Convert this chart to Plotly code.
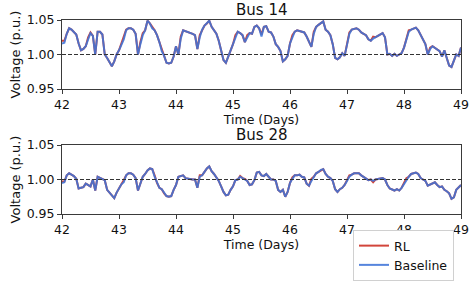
import numpy as np
import plotly.graph_objects as go

# Hourly samples from day 42 to day 49
start_day = 42
hours = np.arange(169)
time_days = start_day + hours / 24.0

bus14_baseline = [
    1.016, 1.017, 1.030, 1.038, 1.036, 1.033, 1.029, 1.016, 1.006, 1.008, 1.012, 1.022,
    1.031, 1.027, 1.000, 1.033, 1.033, 1.029, 1.000, 0.995, 0.988, 0.983, 0.990, 1.000,
    1.006, 1.015, 1.022, 1.035, 1.038, 1.038, 1.036, 1.030, 1.000, 1.015, 1.028, 1.035,
    1.049, 1.045, 1.038, 1.035, 1.028, 1.018, 1.005, 0.998, 0.988, 0.987, 0.988, 0.997,
    1.012, 1.000, 1.023, 1.035, 1.034, 1.032, 1.031, 1.030, 1.028, 1.008, 1.025, 1.036,
    1.042, 1.045, 1.049, 1.040, 1.035, 1.030, 1.020, 1.004, 0.992, 0.988, 0.997, 1.005,
    1.015, 1.025, 1.033, 1.031, 1.028, 1.018, 1.025, 1.031, 1.030, 1.040, 1.042, 1.038,
    1.026, 1.040, 1.041, 1.033, 1.032, 1.026, 1.015, 1.011, 1.005, 0.990, 0.993, 0.998,
    1.016, 1.025, 1.033, 1.035, 1.034, 1.033, 1.032, 1.026, 1.018, 1.011, 1.030, 1.040,
    1.043, 1.046, 1.048, 1.036, 1.033, 1.028, 1.015, 0.995, 0.993, 0.996, 1.002, 0.998,
    1.015, 1.030, 1.036, 1.037, 1.038, 1.036, 1.032, 1.030, 1.028, 1.022, 1.020, 1.023,
    1.025, 1.027, 1.029, 1.031, 1.025, 1.000, 1.001, 0.998, 1.001, 0.998, 1.000, 1.002,
    1.010, 1.020, 1.033, 1.036, 1.038, 1.039, 1.035, 1.028, 1.022, 1.015, 1.000, 1.008,
    1.012, 1.010, 1.008, 1.005, 0.997, 1.006, 0.995, 0.984, 0.982, 0.990, 1.000, 0.998,
    1.010,
]

bus14_rl = [
    1.020, 1.020, 1.030, 1.038, 1.036, 1.033, 1.029, 1.016, 1.006, 1.008, 1.012, 1.025,
    1.032, 1.027, 1.000, 1.033, 1.033, 1.029, 1.000, 0.995, 0.988, 0.983, 0.990, 1.000,
    1.006, 1.015, 1.026, 1.036, 1.038, 1.038, 1.036, 1.030, 1.000, 1.018, 1.031, 1.035,
    1.049, 1.045, 1.040, 1.035, 1.028, 1.018, 1.005, 0.998, 0.988, 0.987, 0.988, 0.997,
    1.012, 1.000, 1.026, 1.035, 1.034, 1.032, 1.031, 1.030, 1.028, 1.008, 1.028, 1.036,
    1.042, 1.045, 1.049, 1.040, 1.035, 1.030, 1.020, 1.004, 0.992, 0.988, 0.997, 1.005,
    1.015, 1.028, 1.033, 1.031, 1.028, 1.018, 1.028, 1.031, 1.030, 1.040, 1.042, 1.038,
    1.029, 1.040, 1.041, 1.033, 1.032, 1.026, 1.015, 1.011, 1.005, 0.990, 0.993, 0.998,
    1.016, 1.028, 1.033, 1.035, 1.034, 1.033, 1.032, 1.026, 1.018, 1.011, 1.033, 1.040,
    1.043, 1.046, 1.048, 1.036, 1.033, 1.028, 1.015, 0.995, 0.993, 0.996, 1.002, 0.998,
    1.018, 1.032, 1.036, 1.037, 1.038, 1.036, 1.032, 1.030, 1.028, 1.022, 1.020, 1.026,
    1.025, 1.027, 1.029, 1.031, 1.025, 1.000, 1.001, 0.998, 1.001, 0.998, 1.000, 1.002,
    1.010, 1.024, 1.035, 1.036, 1.038, 1.039, 1.035, 1.028, 1.022, 1.015, 1.000, 1.010,
    1.012, 1.010, 1.008, 1.005, 0.997, 1.006, 0.995, 0.984, 0.982, 0.990, 1.000, 0.998,
    1.010,
]

bus28_baseline = [
    0.995, 0.996, 1.006, 1.009, 1.007, 1.005, 1.001, 0.987, 0.988, 0.989, 0.994, 0.992,
    0.990, 1.000, 0.984, 1.004, 1.002, 1.000, 0.999, 0.985, 0.981, 0.976, 0.973, 0.981,
    0.988, 0.993, 0.996, 1.006, 1.009, 1.009, 1.007, 1.002, 0.984, 0.994, 1.004, 1.008,
    1.013, 1.016, 1.015, 1.004, 0.995, 0.988, 0.986, 0.980, 0.976, 0.975, 0.976, 0.985,
    0.992, 1.004, 1.005, 1.006, 1.002, 1.001, 1.001, 1.000, 1.000, 0.988, 1.004, 1.006,
    1.011, 1.016, 1.019, 1.012, 1.008, 1.003, 0.998, 0.990, 0.982, 0.977, 0.978, 0.985,
    0.990, 0.999, 1.000, 1.004, 1.002, 1.001, 0.998, 0.992, 0.993, 0.999, 1.010, 1.011,
    1.006, 1.005, 1.008, 1.004, 1.000, 1.000, 0.998, 0.985, 0.982, 0.985, 0.975, 0.982,
    0.995, 1.001, 1.006, 1.006, 1.007, 1.004, 1.003, 0.994, 0.991, 0.998, 1.004, 1.009,
    1.011, 1.014, 1.015, 1.008, 1.004, 1.002, 0.998, 0.986, 0.982, 0.986, 0.988, 0.992,
    0.998, 1.004, 1.007, 1.009, 1.009, 1.009, 1.006, 1.004, 1.002, 0.999, 1.000, 0.998,
    1.000, 1.001, 1.002, 1.002, 1.000, 0.992, 0.987, 0.986, 0.984, 0.986, 0.984, 0.988,
    0.994, 1.000, 1.004, 1.008, 1.009, 1.010, 1.008, 1.002, 1.000, 0.998, 0.991, 0.993,
    0.995, 0.996, 0.992, 0.989, 0.990, 0.985, 0.983, 0.980, 0.972, 0.974, 0.985, 0.988,
    0.992,
]

bus28_rl = [
    0.997, 0.997, 1.006, 1.009, 1.007, 1.005, 1.001, 0.987, 0.988, 0.989, 0.994, 0.992,
    0.990, 1.000, 0.984, 1.004, 1.002, 1.000, 0.999, 0.985, 0.981, 0.976, 0.973, 0.981,
    0.988, 0.993, 0.999, 1.006, 1.009, 1.009, 1.007, 1.002, 0.984, 0.994, 1.004, 1.008,
    1.013, 1.016, 1.015, 1.006, 0.995, 0.988, 0.986, 0.980, 0.976, 0.975, 0.976, 0.985,
    0.992, 1.004, 1.005, 1.006, 1.002, 1.001, 1.001, 1.000, 1.000, 0.988, 1.006, 1.006,
    1.011, 1.016, 1.019, 1.012, 1.008, 1.003, 0.998, 0.990, 0.982, 0.977, 0.978, 0.985,
    0.990, 0.999, 1.000, 1.005, 1.002, 1.001, 0.998, 0.992, 0.993, 0.999, 1.010, 1.011,
    1.006, 1.005, 1.008, 1.004, 1.000, 1.000, 0.998, 0.985, 0.982, 0.985, 0.975, 0.982,
    0.995, 1.003, 1.006, 1.006, 1.007, 1.004, 1.003, 0.994, 0.991, 1.001, 1.004, 1.009,
    1.011, 1.014, 1.015, 1.008, 1.004, 1.002, 0.998, 0.986, 0.982, 0.986, 0.988, 0.992,
    0.998, 1.006, 1.007, 1.009, 1.009, 1.009, 1.006, 1.004, 1.002, 0.999, 1.000, 0.996,
    1.000, 1.001, 1.002, 1.002, 1.000, 0.992, 0.987, 0.986, 0.984, 0.986, 0.984, 0.988,
    0.994, 1.002, 1.004, 1.008, 1.009, 1.010, 1.008, 1.002, 1.000, 0.998, 0.991, 0.993,
    0.995, 0.996, 0.992, 0.989, 0.990, 0.985, 0.983, 0.980, 0.972, 0.974, 0.985, 0.988,
    0.992,
]

panel_titles = ["Bus 14", "Bus 28"]
x_ticks = [42, 43, 44, 45, 46, 47, 48, 49]
y_ticks = [0.95, 1.00, 1.05]
reference_voltage = 1.0

RL_COLOR = "#d2453b"
BASE_COLOR = "#3f74d8"
FONT = "DejaVu Sans"
AX_COLOR = "#3a3a3a"

fig = go.Figure()

panels = [
    (bus14_rl, bus14_baseline, "x", "y", True),
    (bus28_rl, bus28_baseline, "x2", "y2", False),
]
for rl, base, xa, ya, show in panels:
    fig.add_trace(go.Scatter(
        x=time_days, y=rl, mode="lines", name="RL",
        line=dict(color=RL_COLOR, width=2), xaxis=xa, yaxis=ya,
        showlegend=show, legendrank=1,
    ))
    fig.add_trace(go.Scatter(
        x=time_days, y=base, mode="lines", name="Baseline",
        line=dict(color=BASE_COLOR, width=2), opacity=0.88, xaxis=xa, yaxis=ya,
        showlegend=show, legendrank=2,
    ))

axis_common = dict(
    showgrid=False, zeroline=False, showline=True, mirror=True,
    linecolor=AX_COLOR, linewidth=1, ticks="outside", ticklen=4,
    tickcolor=AX_COLOR, tickfont=dict(family=FONT, size=12.5, color="#111"),
)
xcommon = dict(axis_common, range=[42, 49], tickvals=x_ticks,
               title=dict(text="Time (Days)", font=dict(family=FONT, size=12.5, color="#111"), standoff=1))
ycommon = dict(axis_common, range=[0.95, 1.05], tickvals=y_ticks, tickformat=".2f",
               title=dict(text="Voltage (p.u.)", font=dict(family=FONT, size=13, color="#111"), standoff=3))

fig.update_layout(
    width=474, height=283,
    margin=dict(l=62, r=13, t=20, b=69, autoexpand=False),
    paper_bgcolor="white", plot_bgcolor="white",
    xaxis=dict(xcommon, domain=[0, 1], anchor="y"),
    yaxis=dict(ycommon, domain=[125 / 194, 1], anchor="x"),
    xaxis2=dict(xcommon, domain=[0, 1], anchor="y2"),
    yaxis2=dict(ycommon, domain=[0, 69 / 194], anchor="x2"),
    legend=dict(
        x=(454 - 62) / 399, xanchor="right", y=-16 / 194, yanchor="top",
        bordercolor="#d0d0d0", borderwidth=1, bgcolor="white",
        font=dict(family=FONT, size=12.5, color="#111"),
        tracegroupgap=0, itemwidth=30,
    ),
    showlegend=True,
)

for i, (title, ya) in enumerate(zip(panel_titles, ["y", "y2"])):
    xr = "x domain" if i == 0 else "x2 domain"
    yr = "y domain" if i == 0 else "y2 domain"
    fig.add_annotation(text=title, xref=xr, yref=yr, x=0.5, y=1, xanchor="center",
                       yanchor="bottom", yshift=-1, showarrow=False,
                       font=dict(family=FONT, size=15, color="#111"))
    fig.add_shape(type="line", xref=xr, yref=ya, x0=0, x1=1,
                  y0=reference_voltage, y1=reference_voltage,
                  line=dict(color="#333", width=1.2, dash="4px,2px"))

fig.write_html("out.html")
